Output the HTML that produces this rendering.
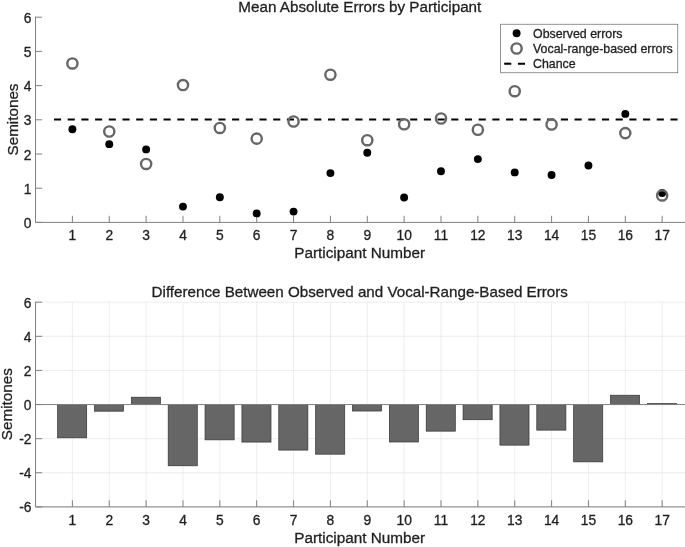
<!DOCTYPE html><html><head><meta charset="utf-8"><title>Mean Absolute Errors by Participant</title>
<style>html,body{margin:0;padding:0;background:#fff}svg{display:block}text{font-family:"Liberation Sans",Arial,Helvetica,sans-serif;fill:#1f1f1f;stroke:#1f1f1f;stroke-width:0.3}</style></head><body>
<svg width="685" height="547" viewBox="0 0 685 547">
<rect width="685" height="547" fill="#fff"/>
<g id="top">
<text transform="translate(359.80,12.00) scale(1,1.000)" font-size="15.24" text-anchor="middle">Mean Absolute Errors by Participant</text>
<g stroke="#808080" stroke-width="1" fill="none">
<path d="M35.54 16.70 V222.40 H685"/>
<path d="M35.54 222.40 h6.6"/>
<path d="M35.54 188.20 h6.6"/>
<path d="M35.54 154.00 h6.6"/>
<path d="M35.54 119.80 h6.6"/>
<path d="M35.54 85.60 h6.6"/>
<path d="M35.54 51.40 h6.6"/>
<path d="M35.54 17.20 h6.6"/>
<path d="M72.40 222.40 v-6.6"/>
<path d="M109.26 222.40 v-6.6"/>
<path d="M146.12 222.40 v-6.6"/>
<path d="M182.98 222.40 v-6.6"/>
<path d="M219.84 222.40 v-6.6"/>
<path d="M256.70 222.40 v-6.6"/>
<path d="M293.56 222.40 v-6.6"/>
<path d="M330.42 222.40 v-6.6"/>
<path d="M367.28 222.40 v-6.6"/>
<path d="M404.14 222.40 v-6.6"/>
<path d="M441.00 222.40 v-6.6"/>
<path d="M477.86 222.40 v-6.6"/>
<path d="M514.72 222.40 v-6.6"/>
<path d="M551.58 222.40 v-6.6"/>
<path d="M588.44 222.40 v-6.6"/>
<path d="M625.30 222.40 v-6.6"/>
<path d="M662.16 222.40 v-6.6"/>
</g>
<text transform="translate(31.50,227.90) scale(1,1.000)" font-size="13.80" text-anchor="end">0</text>
<text transform="translate(31.50,193.70) scale(1,1.000)" font-size="13.80" text-anchor="end">1</text>
<text transform="translate(31.50,159.50) scale(1,1.000)" font-size="13.80" text-anchor="end">2</text>
<text transform="translate(31.50,125.30) scale(1,1.000)" font-size="13.80" text-anchor="end">3</text>
<text transform="translate(31.50,91.10) scale(1,1.000)" font-size="13.80" text-anchor="end">4</text>
<text transform="translate(31.50,56.90) scale(1,1.000)" font-size="13.80" text-anchor="end">5</text>
<text transform="translate(31.50,22.70) scale(1,1.000)" font-size="13.80" text-anchor="end">6</text>
<text transform="translate(72.40,240.00) scale(1,1.000)" font-size="13.80" text-anchor="middle">1</text>
<text transform="translate(109.26,240.00) scale(1,1.000)" font-size="13.80" text-anchor="middle">2</text>
<text transform="translate(146.12,240.00) scale(1,1.000)" font-size="13.80" text-anchor="middle">3</text>
<text transform="translate(182.98,240.00) scale(1,1.000)" font-size="13.80" text-anchor="middle">4</text>
<text transform="translate(219.84,240.00) scale(1,1.000)" font-size="13.80" text-anchor="middle">5</text>
<text transform="translate(256.70,240.00) scale(1,1.000)" font-size="13.80" text-anchor="middle">6</text>
<text transform="translate(293.56,240.00) scale(1,1.000)" font-size="13.80" text-anchor="middle">7</text>
<text transform="translate(330.42,240.00) scale(1,1.000)" font-size="13.80" text-anchor="middle">8</text>
<text transform="translate(367.28,240.00) scale(1,1.000)" font-size="13.80" text-anchor="middle">9</text>
<text transform="translate(404.14,240.00) scale(1,1.000)" font-size="13.80" text-anchor="middle">10</text>
<text transform="translate(441.00,240.00) scale(1,1.000)" font-size="13.80" text-anchor="middle">11</text>
<text transform="translate(477.86,240.00) scale(1,1.000)" font-size="13.80" text-anchor="middle">12</text>
<text transform="translate(514.72,240.00) scale(1,1.000)" font-size="13.80" text-anchor="middle">13</text>
<text transform="translate(551.58,240.00) scale(1,1.000)" font-size="13.80" text-anchor="middle">14</text>
<text transform="translate(588.44,240.00) scale(1,1.000)" font-size="13.80" text-anchor="middle">15</text>
<text transform="translate(625.30,240.00) scale(1,1.000)" font-size="13.80" text-anchor="middle">16</text>
<text transform="translate(662.16,240.00) scale(1,1.000)" font-size="13.80" text-anchor="middle">17</text>
<text transform="translate(359.70,258.10) scale(1,1.000)" font-size="15.30" text-anchor="middle">Participant Number</text>
<text transform="translate(17.50,119.50) rotate(-90) scale(1,1.000)" font-size="15.24" text-anchor="middle">Semitones</text>
<path d="M53.97 119.50 H680.59" stroke="#000" stroke-width="2.1" stroke-dasharray="7.1 6.6" fill="none"/>
<circle cx="72.40" cy="129.20" r="3.95" fill="#000"/>
<circle cx="109.26" cy="144.15" r="3.95" fill="#000"/>
<circle cx="146.12" cy="149.40" r="3.95" fill="#000"/>
<circle cx="182.98" cy="206.60" r="3.95" fill="#000"/>
<circle cx="219.84" cy="197.30" r="3.95" fill="#000"/>
<circle cx="256.70" cy="213.40" r="3.95" fill="#000"/>
<circle cx="293.56" cy="211.60" r="3.95" fill="#000"/>
<circle cx="330.42" cy="173.10" r="3.95" fill="#000"/>
<circle cx="367.28" cy="152.80" r="3.95" fill="#000"/>
<circle cx="404.14" cy="197.45" r="3.95" fill="#000"/>
<circle cx="441.00" cy="171.20" r="3.95" fill="#000"/>
<circle cx="477.86" cy="159.10" r="3.95" fill="#000"/>
<circle cx="514.72" cy="172.40" r="3.95" fill="#000"/>
<circle cx="551.58" cy="175.00" r="3.95" fill="#000"/>
<circle cx="588.44" cy="165.55" r="3.95" fill="#000"/>
<circle cx="625.30" cy="113.90" r="3.95" fill="#000"/>
<circle cx="662.16" cy="193.00" r="3.95" fill="#000"/>
<circle cx="72.40" cy="63.43" r="5.1" fill="none" stroke="#666" stroke-width="2.4"/>
<circle cx="109.26" cy="131.50" r="5.1" fill="none" stroke="#666" stroke-width="2.4"/>
<circle cx="146.12" cy="163.95" r="5.1" fill="none" stroke="#666" stroke-width="2.4"/>
<circle cx="182.98" cy="85.05" r="5.1" fill="none" stroke="#666" stroke-width="2.4"/>
<circle cx="219.84" cy="127.97" r="5.1" fill="none" stroke="#666" stroke-width="2.4"/>
<circle cx="256.70" cy="138.66" r="5.1" fill="none" stroke="#666" stroke-width="2.4"/>
<circle cx="293.56" cy="121.50" r="5.1" fill="none" stroke="#666" stroke-width="2.4"/>
<circle cx="330.42" cy="74.70" r="5.1" fill="none" stroke="#666" stroke-width="2.4"/>
<circle cx="367.28" cy="140.20" r="5.1" fill="none" stroke="#666" stroke-width="2.4"/>
<circle cx="404.14" cy="124.30" r="5.1" fill="none" stroke="#666" stroke-width="2.4"/>
<circle cx="441.00" cy="118.50" r="5.1" fill="none" stroke="#666" stroke-width="2.4"/>
<circle cx="477.86" cy="129.75" r="5.1" fill="none" stroke="#666" stroke-width="2.4"/>
<circle cx="514.72" cy="91.20" r="5.1" fill="none" stroke="#666" stroke-width="2.4"/>
<circle cx="551.58" cy="124.50" r="5.1" fill="none" stroke="#666" stroke-width="2.4"/>
<circle cx="588.44" cy="50.00" r="5.1" fill="none" stroke="#666" stroke-width="2.4"/>
<circle cx="625.30" cy="133.10" r="5.1" fill="none" stroke="#666" stroke-width="2.4"/>
<circle cx="662.16" cy="195.44" r="5.1" fill="none" stroke="#666" stroke-width="2.4"/>
<rect x="500.7" y="24.2" width="177.1" height="48.6" fill="#fff" stroke="#4d4d4d" stroke-width="0.6"/>
<circle cx="516.6" cy="33.3" r="3.95" fill="#000"/>
<circle cx="516.6" cy="48.5" r="5.1" fill="none" stroke="#666" stroke-width="2.4"/>
<path d="M504.2 63.7 H529.5" stroke="#000" stroke-width="2.1" stroke-dasharray="7.1 6.6" fill="none"/>
<text transform="translate(533.00,38.00) scale(1,1.000)" font-size="12.40" text-anchor="start">Observed errors</text>
<text transform="translate(533.00,53.20) scale(1,1.000)" font-size="12.40" text-anchor="start">Vocal-range-based errors</text>
<text transform="translate(533.00,68.40) scale(1,1.000)" font-size="12.40" text-anchor="start">Chance</text>
</g>
<g id="bottom">
<text transform="translate(359.75,296.70) scale(1,1.000)" font-size="15.18" text-anchor="middle">Difference Between Observed and Vocal-Range-Based Errors</text>
<g stroke="#e9e9e9" stroke-width="0.8" fill="none">
<path d="M35.54 506.90 H685"/>
<path d="M35.54 472.78 H685"/>
<path d="M35.54 438.67 H685"/>
<path d="M35.54 404.55 H685"/>
<path d="M35.54 370.43 H685"/>
<path d="M35.54 336.32 H685"/>
<path d="M35.54 302.20 H685"/>
<path d="M72.40 302.20 V506.90"/>
<path d="M109.26 302.20 V506.90"/>
<path d="M146.12 302.20 V506.90"/>
<path d="M182.98 302.20 V506.90"/>
<path d="M219.84 302.20 V506.90"/>
<path d="M256.70 302.20 V506.90"/>
<path d="M293.56 302.20 V506.90"/>
<path d="M330.42 302.20 V506.90"/>
<path d="M367.28 302.20 V506.90"/>
<path d="M404.14 302.20 V506.90"/>
<path d="M441.00 302.20 V506.90"/>
<path d="M477.86 302.20 V506.90"/>
<path d="M514.72 302.20 V506.90"/>
<path d="M551.58 302.20 V506.90"/>
<path d="M588.44 302.20 V506.90"/>
<path d="M625.30 302.20 V506.90"/>
<path d="M662.16 302.20 V506.90"/>
</g>
<rect x="57.61" y="404.55" width="29.09" height="33.26" fill="#666" stroke="#333" stroke-width="0.7"/>
<rect x="94.47" y="404.55" width="29.09" height="6.65" fill="#666" stroke="#333" stroke-width="0.7"/>
<rect x="131.33" y="397.21" width="29.09" height="7.34" fill="#666" stroke="#333" stroke-width="0.7"/>
<rect x="168.19" y="404.55" width="29.09" height="61.24" fill="#666" stroke="#333" stroke-width="0.7"/>
<rect x="205.05" y="404.55" width="29.09" height="35.31" fill="#666" stroke="#333" stroke-width="0.7"/>
<rect x="241.91" y="404.55" width="29.09" height="37.53" fill="#666" stroke="#333" stroke-width="0.7"/>
<rect x="278.77" y="404.55" width="29.09" height="45.55" fill="#666" stroke="#333" stroke-width="0.7"/>
<rect x="315.63" y="404.55" width="29.09" height="49.64" fill="#666" stroke="#333" stroke-width="0.7"/>
<rect x="352.49" y="404.55" width="29.09" height="6.48" fill="#666" stroke="#333" stroke-width="0.7"/>
<rect x="389.35" y="404.55" width="29.09" height="37.44" fill="#666" stroke="#333" stroke-width="0.7"/>
<rect x="426.21" y="404.55" width="29.09" height="26.61" fill="#666" stroke="#333" stroke-width="0.7"/>
<rect x="463.07" y="404.55" width="29.09" height="15.18" fill="#666" stroke="#333" stroke-width="0.7"/>
<rect x="499.93" y="404.55" width="29.09" height="40.60" fill="#666" stroke="#333" stroke-width="0.7"/>
<rect x="536.79" y="404.55" width="29.09" height="25.59" fill="#666" stroke="#333" stroke-width="0.7"/>
<rect x="573.65" y="404.55" width="29.09" height="57.32" fill="#666" stroke="#333" stroke-width="0.7"/>
<rect x="610.51" y="395.22" width="29.09" height="9.33" fill="#666" stroke="#333" stroke-width="0.7"/>
<rect x="647.37" y="403.53" width="29.09" height="1.02" fill="#666" stroke="#333" stroke-width="0.7"/>
<g stroke="#808080" stroke-width="1" fill="none">
<path d="M35.54 301.70 V506.90 H685"/>
<path d="M35.54 404.55 H685"/>
<path d="M35.54 506.90 h6.6"/>
<path d="M35.54 472.78 h6.6"/>
<path d="M35.54 438.67 h6.6"/>
<path d="M35.54 404.55 h6.6"/>
<path d="M35.54 370.43 h6.6"/>
<path d="M35.54 336.32 h6.6"/>
<path d="M35.54 302.20 h6.6"/>
<path d="M72.40 506.90 v-6.6"/>
<path d="M109.26 506.90 v-6.6"/>
<path d="M146.12 506.90 v-6.6"/>
<path d="M182.98 506.90 v-6.6"/>
<path d="M219.84 506.90 v-6.6"/>
<path d="M256.70 506.90 v-6.6"/>
<path d="M293.56 506.90 v-6.6"/>
<path d="M330.42 506.90 v-6.6"/>
<path d="M367.28 506.90 v-6.6"/>
<path d="M404.14 506.90 v-6.6"/>
<path d="M441.00 506.90 v-6.6"/>
<path d="M477.86 506.90 v-6.6"/>
<path d="M514.72 506.90 v-6.6"/>
<path d="M551.58 506.90 v-6.6"/>
<path d="M588.44 506.90 v-6.6"/>
<path d="M625.30 506.90 v-6.6"/>
<path d="M662.16 506.90 v-6.6"/>
</g>
<text transform="translate(31.50,512.40) scale(1,1.000)" font-size="13.80" text-anchor="end">-6</text>
<text transform="translate(31.50,478.28) scale(1,1.000)" font-size="13.80" text-anchor="end">-4</text>
<text transform="translate(31.50,444.17) scale(1,1.000)" font-size="13.80" text-anchor="end">-2</text>
<text transform="translate(31.50,410.05) scale(1,1.000)" font-size="13.80" text-anchor="end">0</text>
<text transform="translate(31.50,375.93) scale(1,1.000)" font-size="13.80" text-anchor="end">2</text>
<text transform="translate(31.50,341.82) scale(1,1.000)" font-size="13.80" text-anchor="end">4</text>
<text transform="translate(31.50,307.70) scale(1,1.000)" font-size="13.80" text-anchor="end">6</text>
<text transform="translate(72.40,524.50) scale(1,1.000)" font-size="13.80" text-anchor="middle">1</text>
<text transform="translate(109.26,524.50) scale(1,1.000)" font-size="13.80" text-anchor="middle">2</text>
<text transform="translate(146.12,524.50) scale(1,1.000)" font-size="13.80" text-anchor="middle">3</text>
<text transform="translate(182.98,524.50) scale(1,1.000)" font-size="13.80" text-anchor="middle">4</text>
<text transform="translate(219.84,524.50) scale(1,1.000)" font-size="13.80" text-anchor="middle">5</text>
<text transform="translate(256.70,524.50) scale(1,1.000)" font-size="13.80" text-anchor="middle">6</text>
<text transform="translate(293.56,524.50) scale(1,1.000)" font-size="13.80" text-anchor="middle">7</text>
<text transform="translate(330.42,524.50) scale(1,1.000)" font-size="13.80" text-anchor="middle">8</text>
<text transform="translate(367.28,524.50) scale(1,1.000)" font-size="13.80" text-anchor="middle">9</text>
<text transform="translate(404.14,524.50) scale(1,1.000)" font-size="13.80" text-anchor="middle">10</text>
<text transform="translate(441.00,524.50) scale(1,1.000)" font-size="13.80" text-anchor="middle">11</text>
<text transform="translate(477.86,524.50) scale(1,1.000)" font-size="13.80" text-anchor="middle">12</text>
<text transform="translate(514.72,524.50) scale(1,1.000)" font-size="13.80" text-anchor="middle">13</text>
<text transform="translate(551.58,524.50) scale(1,1.000)" font-size="13.80" text-anchor="middle">14</text>
<text transform="translate(588.44,524.50) scale(1,1.000)" font-size="13.80" text-anchor="middle">15</text>
<text transform="translate(625.30,524.50) scale(1,1.000)" font-size="13.80" text-anchor="middle">16</text>
<text transform="translate(662.16,524.50) scale(1,1.000)" font-size="13.80" text-anchor="middle">17</text>
<text transform="translate(359.70,542.70) scale(1,1.000)" font-size="15.30" text-anchor="middle">Participant Number</text>
<text transform="translate(11.80,404.20) rotate(-90) scale(1,1.000)" font-size="15.24" text-anchor="middle">Semitones</text>
</g>
</svg></body></html>
